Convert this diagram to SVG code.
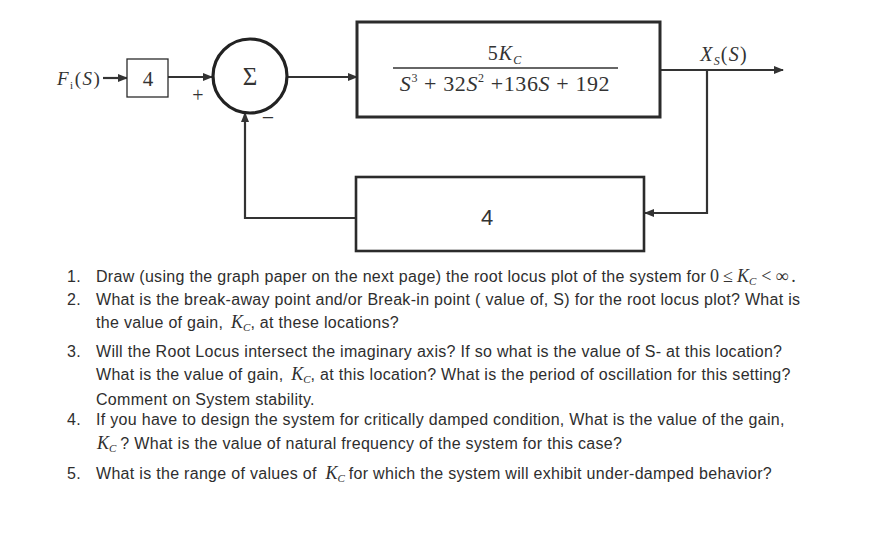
<svg xmlns="http://www.w3.org/2000/svg" width="884" height="560" viewBox="0 0 884 560">
<defs>
<marker id="ah" markerWidth="10" markerHeight="8" refX="9" refY="4" orient="auto" markerUnits="userSpaceOnUse">
<path d="M0,0 L10,4 L0,8 Z" fill="#333"/>
</marker>
<style>
.ln{fill:none;stroke:#333;stroke-width:2.2}
.bx{fill:#fff;stroke:#2b2b2b}
.m{font-family:"Liberation Serif","Times New Roman",serif;fill:#333}
.mi{font-family:"Liberation Serif","Times New Roman",serif;font-style:italic;fill:#333}
.t{font-family:"Liberation Sans",Arial,sans-serif;font-size:16px;letter-spacing:0.3px;fill:#2e2e2e}
.k{font-family:"Liberation Serif","Times New Roman",serif;font-style:italic;font-size:18px;letter-spacing:0}
.s{font-family:"Liberation Serif","Times New Roman",serif;font-style:italic;font-size:11px;letter-spacing:0}
</style>
</defs>
<rect width="884" height="560" fill="#fff"/>

<g id="connectors">
<line class="ln" x1="103" y1="78" x2="127" y2="78" marker-end="url(#ah)"/>
<line class="ln" x1="168" y1="77" x2="212" y2="77" marker-end="url(#ah)"/>
<line class="ln" x1="287" y1="77" x2="357" y2="77" marker-end="url(#ah)"/>
<line class="ln" x1="660" y1="70" x2="783" y2="70" marker-end="url(#ah)"/>
<polyline class="ln" points="707,70 707,213 645,213" marker-end="url(#ah)"/>
<polyline class="ln" points="356,218 245,218 245,113" marker-end="url(#ah)"/>
</g>

<g id="input">
<text class="mi" x="57" y="85" font-size="19" letter-spacing="1.5">F<tspan font-size="11" dy="4" font-style="normal">i</tspan><tspan dy="-4" font-style="normal">(</tspan>S<tspan font-style="normal">)</tspan></text>
</g>

<g id="gain">
<rect class="bx" x="127" y="59" width="41" height="38" stroke-width="1.3"/>
<text class="m" x="148" y="86" font-size="21" text-anchor="middle">4</text>
</g>

<g id="sum">
<circle cx="250" cy="76" r="37" fill="#fff" stroke="#222" stroke-width="3.2"/>
<text class="m" x="250" y="85" font-size="25" text-anchor="middle">Σ</text>
<text class="m" x="198" y="102" font-size="20" text-anchor="middle">+</text>
<text class="m" x="268" y="125" font-size="22" text-anchor="middle">−</text>
</g>

<g id="plant">
<rect class="bx" x="357" y="22" width="303" height="95" stroke-width="3"/>
<text class="m" x="505" y="60" font-size="20" text-anchor="middle" letter-spacing="1">5<tspan font-style="italic">K</tspan><tspan font-size="12" dy="4" font-style="italic">C</tspan></text>
<line x1="393" y1="68" x2="618" y2="68" stroke="#333" stroke-width="1.5"/>
<text class="m" x="505" y="91" font-size="22" text-anchor="middle" letter-spacing="0.6"><tspan font-style="italic">S</tspan><tspan font-size="12" dy="-9">3</tspan><tspan dy="9"> + 32</tspan><tspan font-style="italic">S</tspan><tspan font-size="12" dy="-9">2</tspan><tspan dy="9"> +136</tspan><tspan font-style="italic">S</tspan> + 192</text>
</g>

<g id="output">
<text class="mi" x="724" y="61" font-size="20" text-anchor="middle" letter-spacing="1.2">X<tspan font-size="12" dy="4">S</tspan><tspan dy="-4" font-style="normal">(</tspan>S<tspan font-style="normal">)</tspan></text>
</g>

<g id="feedback">
<rect class="bx" x="356" y="177" width="288" height="74" stroke-width="2.6"/>
<text x="487" y="225" font-family="Liberation Sans,Arial,sans-serif" font-size="22" fill="#333" text-anchor="middle">4</text>
</g>

<g id="questions">
<text class="t" x="67" y="282">1.</text>
<text class="t" x="96" y="282">Draw (using the graph paper on the next page) the root locus plot of the system for</text>
<text class="m" x="710" y="282" font-size="18">0<tspan dx="4">≤</tspan><tspan dx="4" font-style="italic">K</tspan><tspan font-size="11" dy="3" font-style="italic">C</tspan><tspan dy="-3" dx="5">&lt;</tspan><tspan dx="4">∞</tspan><tspan dx="3">.</tspan></text>

<text class="t" x="67" y="305">2.</text>
<text class="t" x="96" y="305" letter-spacing="0.35">What is the break-away point and/or Break-in point ( value of, S) for the root locus plot?  What is</text>
<text class="t" x="96" y="328">the value of gain, <tspan class="k" dx="3">K</tspan><tspan class="s" dy="3">C</tspan><tspan dy="-3">, at these locations?</tspan></text>

<text class="t" x="67" y="357">3.</text>
<text class="t" x="96" y="357">Will the Root Locus intersect the imaginary axis? If so what is the value of S- at this location?</text>
<text class="t" x="96" y="380">What is the value of gain, <tspan class="k" dx="3">K</tspan><tspan class="s" dy="3">C</tspan><tspan dy="-3">, at this location? What is the period of oscillation for this setting?</tspan></text>
<text class="t" x="96" y="405">Comment on System stability.</text>

<text class="t" x="67" y="425">4.</text>
<text class="t" x="96" y="425">If you have to design the system for critically damped condition, What is the value of the gain,</text>
<text class="t" x="97" y="449"><tspan class="k">K</tspan><tspan class="s" dy="3">C</tspan><tspan dy="-3" dx="4">? What is the value of natural frequency of the system for this case?</tspan></text>

<text class="t" x="67" y="479">5.</text>
<text class="t" x="96" y="479">What is the range of values of <tspan class="k" dx="4">K</tspan><tspan class="s" dy="3">C</tspan><tspan dy="-3" dx="4">for which the system will exhibit under-damped behavior?</tspan></text>
</g>
</svg>
